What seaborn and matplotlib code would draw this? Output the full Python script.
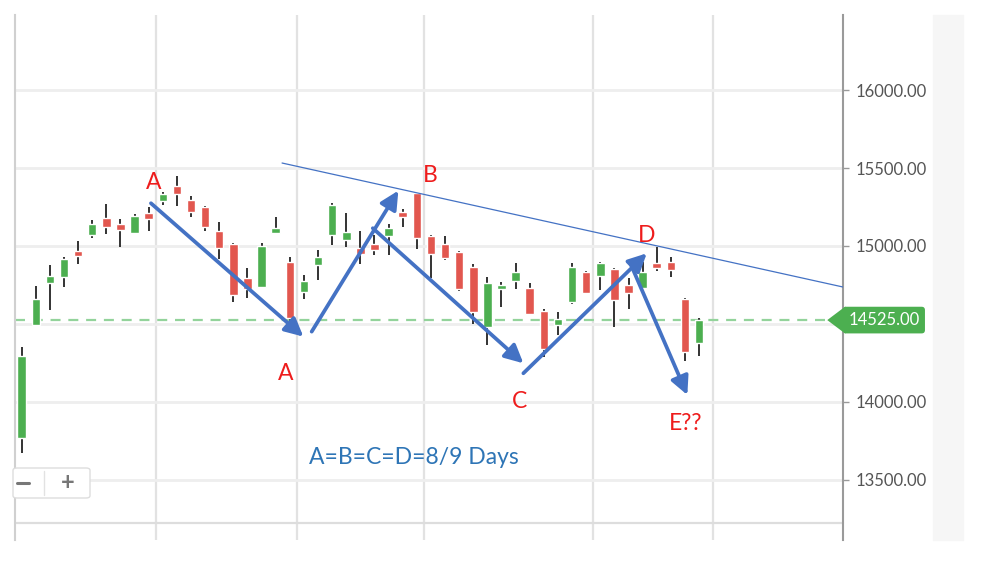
import numpy as np
import pandas as pd
import seaborn as sns
import matplotlib.pyplot as plt
from matplotlib import patches, lines

# daily candles (index = trading day)
opens = [13771, 14494, 14765, 14799, 14968, 15071, 15182, 15139, 15082, 15210,
         15289, 15385, 15295, 15250, 15096, 15013, 14797, 14739, 15082, 14899,
         14707, 14878, 15071, 15038, 14985, 15013, 15064, 15216, 15338, 15066,
         15011, 14964, 14867, 14483, 14722, 14778, 14729, 14585, 14494, 14639,
         14835, 14808, 14853, 14750, 14733, 14889, 14899, 14660, 14380]
highs = [14351, 14746, 14880, 14928, 15030, 15167, 15267, 15173, 15203, 15252,
         15348, 15449, 15322, 15258, 15156, 15020, 14859, 15021, 15188, 14928,
         14814, 14974, 15278, 15210, 15096, 15071, 15139, 15235, 15342, 15070,
         15064, 14970, 14883, 14803, 14771, 14893, 14761, 14594, 14579, 14889,
         14840, 14896, 14861, 14793, 14899, 14996, 14931, 14669, 14540]
lows = [13675, 14492, 14590, 14735, 14883, 15051, 15077, 14996, 15082, 15098,
        15261, 15258, 15188, 15096, 14915, 14643, 14669, 14735, 15082, 14504,
        14658, 14782, 15006, 14996, 14885, 14942, 14942, 15124, 14979, 14793,
        14910, 14713, 14500, 14365, 14611, 14724, 14555, 14287, 14430, 14630,
        14692, 14718, 14479, 14594, 14725, 14842, 14803, 14265, 14295]
closes = [14297, 14660, 14808, 14915, 14936, 15139, 15120, 15103, 15194, 15171,
          15331, 15333, 15216, 15124, 14989, 14686, 14722, 15002, 15113, 14537,
          14776, 14931, 15263, 15092, 14949, 14974, 15113, 15188, 15049, 14947,
          14921, 14724, 14575, 14761, 14750, 14831, 14562, 14338, 14530, 14867,
          14697, 14889, 14654, 14701, 14831, 14857, 14846, 14323, 14525]

last_price = 14525
price_ticks = [13500, 14000, 14500, 15000, 15500, 16000]
price_labels = ['13500.00', '14000.00', '', '15000.00', '15500.00', '16000.00']
session_breaks = [9.5, 19.5, 28.5, 40.5, 49]

df = pd.DataFrame({'day': np.arange(len(opens)), 'open': opens, 'high': highs,
                   'low': lows, 'close': closes})
df['up'] = df['close'] >= df['open']

green = '#4caf50'
red = '#e2574f'
arrow_blue = '#4472c4'

sns.set_theme(style='white')
plt.rcParams['font.family'] = ['Lato', 'DejaVu Sans']

fig = plt.figure(figsize=(9.84, 5.71), dpi=100)
ax = fig.add_axes([15 / 984, 1 - 540 / 571, 828 / 984, 525 / 571])

# right hand grey strip
fig.add_artist(patches.Rectangle((933 / 984, 1 - 540 / 571), 30 / 984, 525 / 571,
                                 transform=fig.transFigure, color='#f6f6f6', zorder=0))

# candles
ax.vlines(df['day'], df['low'], df['high'], color='#333333', lw=1.4, zorder=2)
body = np.maximum((df['close'] - df['open']).abs(), 8)
ax.bar(df['day'], body, bottom=np.minimum(df['open'], df['close']), width=0.6,
       color=np.where(df['up'], green, red), zorder=3)

# last price line + tag
ax.axhline(last_price, color='#93d39b', lw=1.6, ls=(0, (4.5, 3.5)), zorder=1)
ax.text(1.0065, last_price, f'{last_price:.2f}', transform=ax.get_yaxis_transform(),
        ha='left', va='center', color='white', fontsize=12, clip_on=False,
        bbox=dict(boxstyle='round,pad=0.32,rounding_size=0.2', fc=green, ec='none'), zorder=6)
tag_tip = patches.Polygon([(0.981, last_price), (1.003, last_price + 88), (1.003, last_price - 88)],
                          closed=True, transform=ax.get_yaxis_transform(), fc=green, ec='none',
                          clip_on=False, zorder=6)
ax.add_patch(tag_tip)

# resistance line
ax.plot([18.45, 58.2], [15532, 14737], color=arrow_blue, lw=0.9, zorder=4)

# swing arrows
swings = [((9.16, 15274), (19.96, 14419)),
          ((20.55, 14451), (26.69, 15355)),
          ((24.88, 15114), (35.55, 14248)),
          ((35.55, 14184), (44.29, 14953)),
          ((43.11, 14893), (47.17, 14045))]
for start, end in swings:
    ax.annotate('', xy=end, xytext=start, zorder=5,
                arrowprops=dict(arrowstyle='-|>,head_length=0.5,head_width=0.25',
                                color=arrow_blue, lw=2.7, mutation_scale=22,
                                shrinkA=0, shrinkB=0))

# wave labels
for txt, x, y in [('A', 9.38, 15410), ('A', 18.73, 14180), ('B', 28.97, 15452),
                  ('C', 35.31, 14006), ('D', 44.25, 15067), ('E??', 47.08, 13859)]:
    ax.text(x, y, txt, color='#ee1c1c', fontsize=16.5, ha='center', va='center', zorder=6)
ax.text(27.8, 13647, 'A=B=C=D=8/9 Days', color='#2e75b6', fontsize=16.5,
        ha='center', va='center', zorder=6)

# axes styling
ax.set_xlim(-0.475, 58.2)
ax.set_ylim(13115, 16481)
ax.set_xticks(session_breaks)
ax.set_xticklabels([])
ax.set_yticks(price_ticks)
ax.set_yticklabels(price_labels)
ax.yaxis.tick_right()
ax.tick_params(axis='y', which='both', right=True, left=False, direction='out', length=4,
               width=1, color='#999999', labelcolor='#555555', labelsize=12, pad=5)
ax.tick_params(axis='x', bottom=False, length=0)
ax.grid(axis='y', color='#eeeeee', lw=2)
ax.grid(axis='x', color='#e2e2e2', lw=1.6)
ax.set_axisbelow(True)
for side in ['top', 'bottom']:
    ax.spines[side].set_visible(False)
ax.spines['right'].set_color('#9a9a9a')
ax.spines['right'].set_linewidth(1.5)
ax.spines['left'].set_color('#d0d0d0')
ax.spines['left'].set_linewidth(1.5)
ax.plot([0, 1], [0.032, 0.032], transform=ax.transAxes, color='#dddddd', lw=1.6,
        clip_on=False, zorder=1)

# zoom buttons
fig.add_artist(patches.FancyBboxPatch((13 / 984, 1 - 498 / 571), 77 / 984, 30 / 571,
                                      boxstyle='round,pad=0,rounding_size=0.004',
                                      transform=fig.transFigure, fc='white', ec='#dddddd',
                                      lw=1, zorder=5))
fig.add_artist(lines.Line2D([44 / 984, 44 / 984], [1 - 495 / 571, 1 - 471 / 571],
                            transform=fig.transFigure, color='#e2e2e2', lw=1, zorder=6))
fig.add_artist(lines.Line2D([17 / 984, 29 / 984], [1 - 483 / 571, 1 - 483 / 571],
                            transform=fig.transFigure, color='#777777', lw=2.2, zorder=7))
fig.text(68 / 984, 1 - 483 / 571, '+', ha='center', va='center', fontsize=17,
         color='#777777', fontweight='bold', zorder=7)

fig.savefig('out.png', dpi=100)
